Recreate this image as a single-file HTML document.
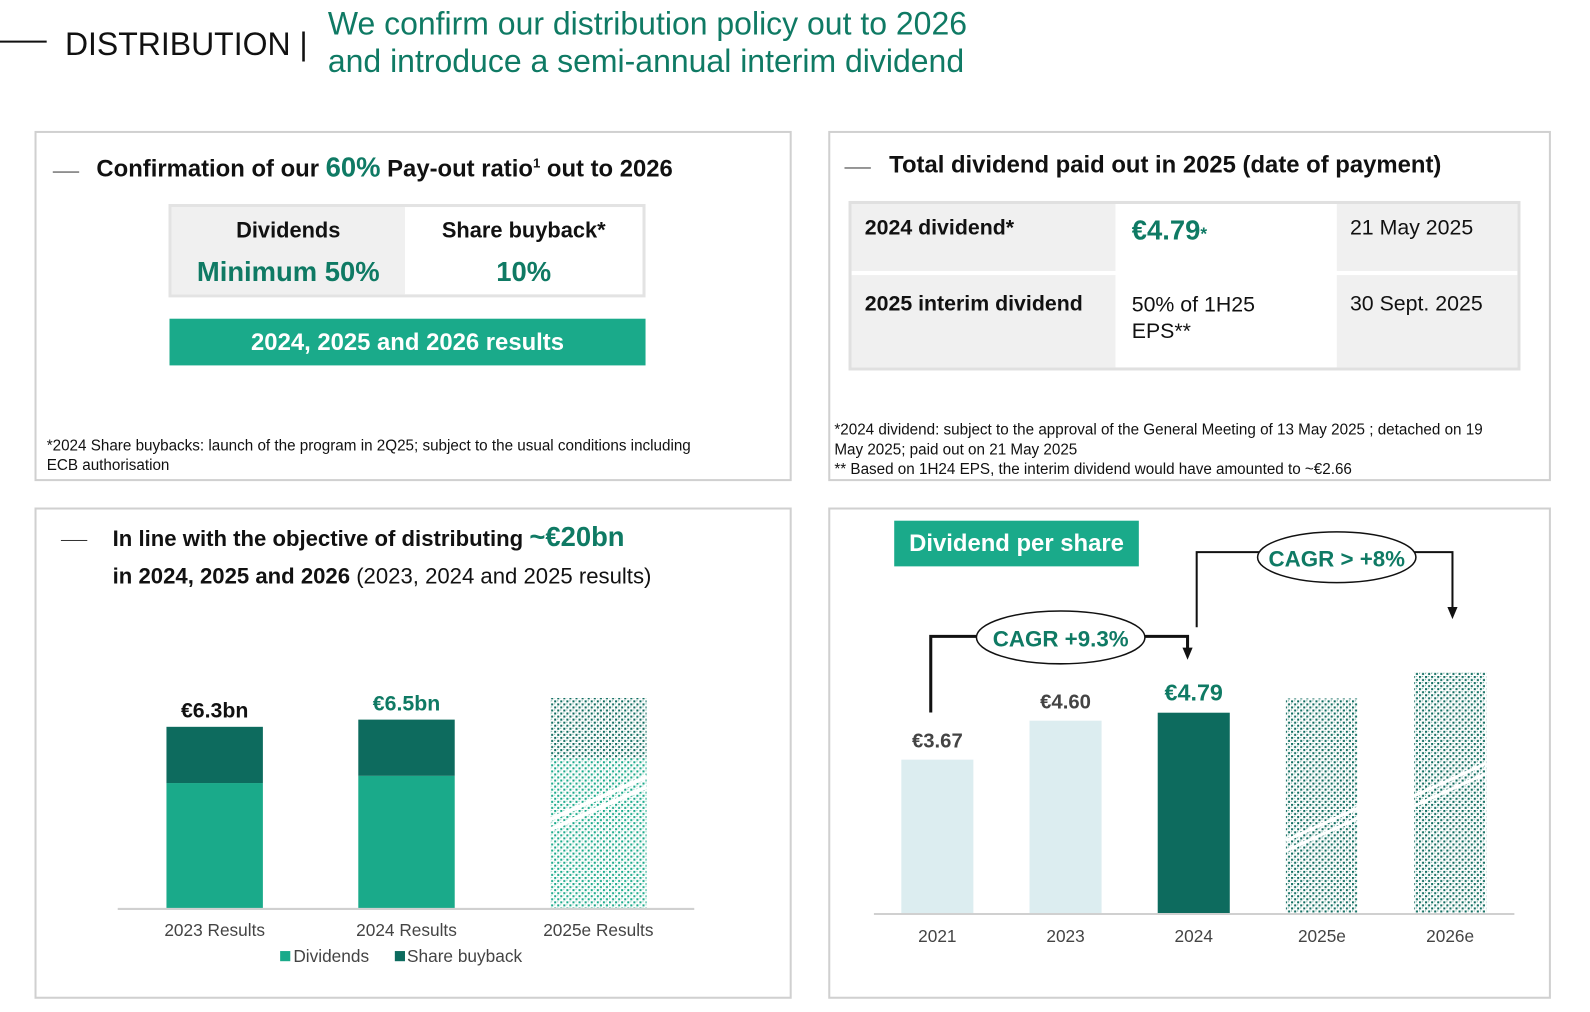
<!DOCTYPE html>
<html><head><meta charset="utf-8">
<style>
html,body{margin:0;padding:0;background:#fff;width:1590px;height:1012px;overflow:hidden}
#root{position:absolute;left:0;top:0;width:1567px;height:997px;transform:scale(1.015);transform-origin:0 0;font-family:"Liberation Sans",Arial,sans-serif;color:#111}
.abs{position:absolute}
.panel{position:absolute;border:2px solid #d0d0d0;box-sizing:border-box}
.g{color:#0f7a64}
.b{font-weight:bold}
</style></head><body>
<div id="root">
  <div class="abs" style="left:0;top:40px;width:46px;height:2px;background:#111"></div>
  <div class="abs" style="left:64px;top:25px;font-size:31.5px">DISTRIBUTION |</div>
  <div class="abs g" style="left:323px;top:5px;font-size:31.5px;line-height:37px;white-space:nowrap">We confirm our distribution policy out to 2026<br>and introduce a semi-annual interim dividend</div>

  <!-- Panel 1 -->
  <div class="panel" style="left:34px;top:129px;width:746px;height:345px">
    <div class="abs" style="left:16px;top:38px;width:26px;height:1px;background:#333"></div>
    <div class="abs b" style="left:59px;top:19px;font-size:23.5px;white-space:nowrap">Confirmation of our <span class="g" style="font-size:27px">60%</span> Pay-out ratio<sup style="font-size:13px">1</sup> out to 2026</div>
    <div class="abs" style="left:130px;top:70px;width:470px;height:92px;border:3px solid #e3e3e3;box-sizing:border-box;background:#fff">
      <div class="abs" style="left:0;top:0;width:230px;height:86px;background:#f0f0f0"></div>
      <div class="abs b" style="left:0;top:11px;width:230px;text-align:center;font-size:21.5px">Dividends</div>
      <div class="abs b g" style="left:0;top:49px;width:230px;text-align:center;font-size:27px">Minimum 50%</div>
      <div class="abs b" style="left:230px;top:11px;width:234px;text-align:center;font-size:21.5px">Share buyback*</div>
      <div class="abs b g" style="left:230px;top:49px;width:234px;text-align:center;font-size:27px">10%</div>
    </div>
    <div class="abs b" style="left:131px;top:183px;width:469px;height:46px;background:#1aaa8a;color:#fff;font-size:23.5px;line-height:46px;text-align:center">2024, 2025 and 2026 results</div>
    <div class="abs" style="left:10px;top:299px;font-size:15px;line-height:19px;width:640px">*2024 Share buybacks: launch of the program in 2Q25; subject to the usual conditions including ECB authorisation</div>
  </div>

  <!-- Panel 2 -->
  <div class="panel" style="left:816px;top:129px;width:712px;height:345px">
    <div class="abs" style="left:14px;top:34px;width:26px;height:1px;background:#333"></div>
    <div class="abs b" style="left:58px;top:18px;font-size:23.5px;white-space:nowrap">Total dividend paid out in 2025 (date of payment)</div>
    <div class="abs" style="left:18px;top:67px;width:662px;height:167px;border:3px solid #e0e0e0;box-sizing:border-box;background:#fff">
      <div class="abs" style="left:0;top:0;width:260px;height:66px;background:#f0f0f0"></div>
      <div class="abs" style="left:478px;top:0;width:178px;height:66px;background:#f0f0f0"></div>
      <div class="abs" style="left:0;top:70px;width:260px;height:91px;background:#f0f0f0"></div>
      <div class="abs" style="left:478px;top:70px;width:178px;height:91px;background:#f0f0f0"></div>
      <div class="abs b" style="left:13px;top:12px;font-size:21px">2024 dividend*</div>
      <div class="abs b g" style="left:276px;top:11px;font-size:27px">€4.79<span style="font-size:17px">*</span></div>
      <div class="abs" style="left:491px;top:12px;font-size:21px">21 May 2025</div>
      <div class="abs b" style="left:13px;top:87px;font-size:21px">2025 interim dividend</div>
      <div class="abs" style="left:276px;top:87px;font-size:21px;line-height:26px">50% of 1H25<br>EPS**</div>
      <div class="abs" style="left:491px;top:87px;font-size:21px">30 Sept. 2025</div>
    </div>
    <div class="abs" style="left:4px;top:283px;font-size:15px;line-height:19.5px;width:640px">*2024 dividend: subject to the approval of the General Meeting of 13 May 2025 ; detached on 19 May 2025; paid out on 21 May 2025<br>** Based on 1H24 EPS, the interim dividend would have amounted to ~€2.66</div>
  </div>

  <!-- Panel 3 -->
  <div class="panel" style="left:34px;top:500px;width:746px;height:484px">
    <div class="abs" style="left:24px;top:30px;width:26px;height:1px;background:#333"></div>
    <div class="abs" style="left:75px;top:9px;font-size:21.8px;line-height:37px;white-space:nowrap"><b>In line with the objective of distributing <span class="g" style="font-size:27px">~€20bn</span></b><br><b>in 2024, 2025 and 2026</b> (2023, 2024 and 2025 results)</div>
  </div>
  <svg class="abs" style="left:0;top:0" width="1567" height="997" id="chart">
    <defs>
      <pattern id="hatchL" width="6" height="6" patternUnits="userSpaceOnUse">
        <rect width="6" height="6" fill="#fff"/><rect x="0" y="0" width="2" height="2" fill="#1aaa8a"/><rect x="3" y="3" width="2" height="2" fill="#1aaa8a"/><rect x="3" y="0" width="1" height="1" fill="#7fd0bd"/><rect x="0" y="3" width="1" height="1" fill="#7fd0bd"/>
      </pattern>
      <pattern id="hatchD" width="6" height="6" patternUnits="userSpaceOnUse">
        <rect width="6" height="6" fill="#fff"/><rect x="0" y="0" width="2" height="2" fill="#0d6b5e"/><rect x="3" y="3" width="2" height="2" fill="#0d6b5e"/><rect x="3" y="0" width="1" height="1" fill="#5aa394"/><rect x="0" y="3" width="1" height="1" fill="#5aa394"/>
      </pattern>
    </defs>
    <g id="left"></g>
    <g id="right"></g>
  </svg>

  <!-- Panel 4 -->
  <div class="panel" style="left:816px;top:500px;width:712px;height:484px;pointer-events:none"></div>
  <div class="abs b" style="left:881px;top:513px;width:241px;height:45px;background:#1aaa8a;color:#fff;font-size:23.5px;line-height:45px;text-align:center">Dividend per share</div>
</div>
<script>
// Left chart data (€bn)
const leftCats = ["2023 Results", "2024  Results", "2025e  Results"];
const leftDividends = [4.35, 4.6, 5.2];
const leftBuyback = [1.95, 1.95, 2.1];
const leftLabels = ["€6.3bn", "€6.5bn", ""];
const leftEstimate = [false, false, true];
// Right chart data (€ per share)
const rightCats = ["2021", "2023", "2024", "2025e", "2026e"];
const rightValues = [3.67, 4.60, 4.79, 5.13, 5.76];
const rightLabels = ["€3.67", "€4.60", "€4.79", "", ""];
const rightKind = ["light", "light", "dark", "est", "est"];

const NS = "http://www.w3.org/2000/svg";
function mk(tag, attrs, parent){const e=document.createElementNS(NS,tag);for(const k in attrs)e.setAttribute(k,attrs[k]);parent.appendChild(e);return e;}

// Left axes
const L = {base:895, pxPer:28.4, x0:116, x1:684, bw:95};
const lx = i => 164 + i*189;
const ly = v => L.base - v*L.pxPer;
const gl = document.getElementById('left');
leftCats.forEach((c,i)=>{
  const x=lx(i), d=leftDividends[i], b=leftBuyback[i];
  const r1=mk('rect',{x:x,y:ly(d),width:L.bw,height:L.base-ly(d),fill:leftEstimate[i]?'url(#hatchL)':'#1aaa8a'},gl);
  
  
  const r2=mk('rect',{x:x,y:ly(d+b),width:L.bw,height:ly(d)-ly(d+b),fill:leftEstimate[i]?'url(#hatchD)':'#0d6b5e'},gl);
  
  
  if(leftEstimate[i]){
    mk('line',{x1:x,y1:ly(d)+60,x2:x+L.bw,y2:ly(d)+18,stroke:'#fff','stroke-width':4},gl);
    mk('line',{x1:x,y1:ly(d)+70,x2:x+L.bw,y2:ly(d)+28,stroke:'#fff','stroke-width':4},gl);
  }
  if(leftLabels[i]){
    const t=mk('text',{x:x+L.bw/2,y:ly(d+b)-9,'text-anchor':'middle','font-size':21,'font-weight':'bold',fill:i==1?'#0f7a64':'#111'},gl);
    t.textContent=leftLabels[i];
    
    
  }
  const tl=mk('text',{x:x+L.bw/2,y:922,'text-anchor':'middle','font-size':17,fill:'#444','xml:space':'preserve'},gl);
  tl.textContent=c;
  
  
});
mk('line',{x1:L.x0,y1:L.base+0.5,x2:L.x1,y2:L.base+0.5,stroke:'#d0d0d0','stroke-width':2},gl);
mk('rect',{x:276,y:937,width:10,height:10,fill:'#1aaa8a'},gl);
let lg=mk('text',{x:289,y:948,'font-size':17,fill:'#444'},gl);lg.textContent='Dividends';


mk('rect',{x:389,y:937,width:10,height:10,fill:'#0d6b5e'},gl);
lg=mk('text',{x:401,y:948,'font-size':17,fill:'#444'},gl);lg.textContent='Share buyback';



// Right axes
const R = {base:900, pxPer:41.3, bw:71};
const rx = i => 888 + i*126.3;
const ry = v => R.base - v*R.pxPer;
const gr = document.getElementById('right');
rightCats.forEach((c,i)=>{
  const x=rx(i), v=rightValues[i], k=rightKind[i];
  const r=mk('rect',{x:x,y:ry(v),width:R.bw,height:R.base-ry(v),fill:k=='light'?'#dcedf0':k=='dark'?'#0d6b5e':'url(#hatchD)'},gr);
  
  
  if(k=='est'){
    mk('line',{x1:x,y1:ry(v)+140-(i-3)*18,x2:x+R.bw,y2:ry(v)+108-(i-3)*18,stroke:'#fff','stroke-width':3},gr);
    mk('line',{x1:x,y1:ry(v)+150-(i-3)*18,x2:x+R.bw,y2:ry(v)+118-(i-3)*18,stroke:'#fff','stroke-width':3},gr);
  }
  if(rightLabels[i]){
    const t=mk('text',{x:x+R.bw/2,y:ry(v)-12,'text-anchor':'middle','font-size':k=='dark'?23:20,'font-weight':'bold',fill:k=='dark'?'#0f7a64':'#444'},gr);
    t.textContent=rightLabels[i];
    
    
  }
  const tl=mk('text',{x:x+R.bw/2,y:928,'text-anchor':'middle','font-size':17,fill:'#444'},gr);
  tl.textContent=c;
  
  
});
mk('line',{x1:861,y1:R.base+0.5,x2:1492,y2:R.base+0.5,stroke:'#d0d0d0','stroke-width':2},gr);
// CAGR connectors
mk('path',{d:'M917,702 L917,627 L1170,627 L1170,640',fill:'none',stroke:'#111','stroke-width':3},gr);
mk('polygon',{points:'1165,638 1175,638 1170,650',fill:'#111'},gr);
mk('ellipse',{cx:1045,cy:628,rx:83,ry:26,fill:'#fff',stroke:'#111','stroke-width':1.5},gr);
let ct=mk('text',{x:1045,y:637,'text-anchor':'middle','font-size':22,'font-weight':'bold',fill:'#0f7a64'},gr);ct.textContent='CAGR +9.3%';


mk('path',{d:'M1179,618 L1179,544 L1431,544 L1431,600',fill:'none',stroke:'#111','stroke-width':2},gr);
mk('polygon',{points:'1426,598 1436,598 1431,610',fill:'#111'},gr);
mk('ellipse',{cx:1317,cy:549,rx:78,ry:25,fill:'#fff',stroke:'#111','stroke-width':1.5},gr);
ct=mk('text',{x:1317,y:558,'text-anchor':'middle','font-size':22,'font-weight':'bold',fill:'#0f7a64'},gr);ct.textContent='CAGR > +8%';


</script>
</body></html>
